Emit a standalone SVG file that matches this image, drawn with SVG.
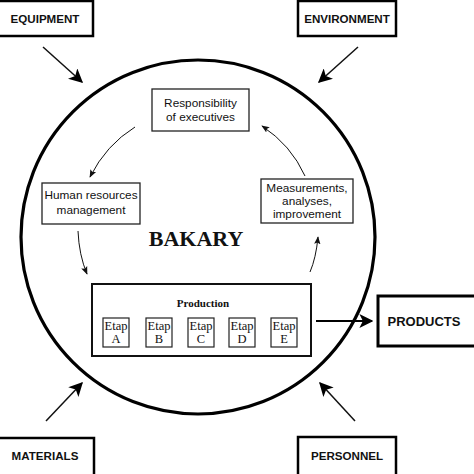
<svg xmlns="http://www.w3.org/2000/svg" width="474" height="474" viewBox="0 0 474 474">
<defs>
<style>
.ext{fill:#fff;stroke:#000;stroke-width:2.5}
.ext-t{font-family:"Liberation Sans",Arial,sans-serif;font-weight:bold;font-size:11.6px;text-anchor:middle;fill:#111}
.box{fill:#fff;stroke:#222;stroke-width:1.3}
.box-t{font-family:"Liberation Sans",Arial,sans-serif;font-size:11.8px;text-anchor:middle;fill:#111}
.etap{fill:#fff;stroke:#222;stroke-width:1.2}
.etap-t{font-family:"Liberation Serif","Times New Roman",serif;font-size:12.5px;text-anchor:middle;fill:#111}
.thin{fill:none;stroke:#111;stroke-width:1}
.ina{fill:none;stroke:#111;stroke-width:1.5}
</style>
<marker id="bigP" viewBox="0 0 10 10" refX="9" refY="5" markerWidth="14" markerHeight="14" markerUnits="userSpaceOnUse" orient="auto"><path d="M0,0 L10,5 L0,10 L2.5,5 Z" fill="#000"/></marker>
<marker id="small" viewBox="0 0 10 10" refX="9" refY="5" markerWidth="8" markerHeight="8" markerUnits="userSpaceOnUse" orient="auto"><path d="M0,1 L10,5 L0,9 L2,5 Z" fill="#111"/></marker>
<marker id="tiny" viewBox="0 0 10 10" refX="10" refY="5" markerWidth="6" markerHeight="6" markerUnits="userSpaceOnUse" orient="auto"><path d="M0,1 L10,5 L0,9 Z" fill="#111"/></marker>
</defs>
<rect width="474" height="474" fill="#fff"/>

<circle cx="198" cy="237" r="177" fill="none" stroke="#000" stroke-width="3.2"/>

<g id="connectors">
<line x1="43" y1="47" x2="82" y2="82" class="ina" marker-end="url(#bigP)"/>
<line x1="358" y1="47" x2="319" y2="82" class="ina" marker-end="url(#bigP)"/>
<line x1="46" y1="421" x2="82" y2="383" class="ina" marker-end="url(#bigP)"/>
<line x1="355" y1="421" x2="320" y2="383" class="ina" marker-end="url(#bigP)"/>
<line x1="316" y1="321" x2="372" y2="321" stroke="#000" stroke-width="2" marker-end="url(#bigP)"/>
<path d="M135,127 Q106,145 90,177" class="thin" marker-end="url(#small)"/>
<path d="M78,231 Q79,255 87,274" class="thin" marker-end="url(#small)"/>
<path d="M310,272 Q316,258 318,237" class="thin" marker-end="url(#small)"/>
<path d="M305,176 Q291,145 262,126" class="thin" marker-end="url(#small)"/>
<line x1="129" y1="333" x2="146" y2="333" class="thin" marker-end="url(#tiny)"/>
<line x1="172" y1="333" x2="188" y2="333" class="thin" marker-end="url(#tiny)"/>
<line x1="214" y1="333" x2="229" y2="333" class="thin" marker-end="url(#tiny)"/>
<line x1="255" y1="333" x2="271" y2="333" class="thin" marker-end="url(#tiny)"/>
</g>

<g id="equipment"><rect x="-5" y="1" width="98" height="35" class="ext"/><text x="45" y="23" class="ext-t">EQUIPMENT</text></g>
<g id="environment"><rect x="298" y="1" width="98" height="35" class="ext"/><text x="347" y="23" class="ext-t">ENVIRONMENT</text></g>
<g id="materials"><rect x="-5" y="438" width="99" height="40" class="ext"/><text x="45" y="460" class="ext-t">MATERIALS</text></g>
<g id="personnel"><rect x="298" y="437" width="98" height="40" class="ext"/><text x="347" y="460" class="ext-t">PERSONNEL</text></g>
<g id="products"><rect x="378" y="296" width="100" height="50" fill="#fff" stroke="#000" stroke-width="3"/><text x="424" y="326" class="ext-t" style="font-size:13px">PRODUCTS</text></g>

<g id="responsibility"><rect x="152" y="89" width="97" height="42" class="box"/><text x="200.5" y="107" class="box-t">Responsibility</text><text x="200.5" y="121" class="box-t">of executives</text></g>
<g id="human"><rect x="42" y="183" width="98" height="41" class="box"/><text x="91" y="199" class="box-t">Human resources</text><text x="91" y="214" class="box-t">management</text></g>
<g id="measurements"><rect x="261" y="179" width="92" height="44" class="box"/><text x="307" y="192" class="box-t">Measurements,</text><text x="307" y="205" class="box-t">analyses,</text><text x="307" y="218" class="box-t">improvement</text></g>

<text x="196" y="246" font-family="'Liberation Serif','Times New Roman',serif" font-weight="bold" font-size="22" text-anchor="middle" fill="#111">BAKARY</text>

<g id="production">
<rect x="92" y="284" width="219" height="72" fill="#fff" stroke="#111" stroke-width="2"/>
<text x="203" y="307" class="etap-t" font-weight="bold" style="font-size:11px">Production</text>
<g id="etapA"><rect x="103" y="318" width="26" height="29" class="etap"/><text x="116" y="330" class="etap-t">Etap</text><text x="116" y="343" class="etap-t">A</text></g>
<g id="etapB"><rect x="146" y="318" width="26" height="29" class="etap"/><text x="159" y="330" class="etap-t">Etap</text><text x="159" y="343" class="etap-t">B</text></g>
<g id="etapC"><rect x="188" y="318" width="26" height="29" class="etap"/><text x="201" y="330" class="etap-t">Etap</text><text x="201" y="343" class="etap-t">C</text></g>
<g id="etapD"><rect x="229" y="318" width="26" height="29" class="etap"/><text x="242" y="330" class="etap-t">Etap</text><text x="242" y="343" class="etap-t">D</text></g>
<g id="etapE"><rect x="271" y="318" width="26" height="29" class="etap"/><text x="284" y="330" class="etap-t">Etap</text><text x="284" y="343" class="etap-t">E</text></g>
</g>
</svg>
